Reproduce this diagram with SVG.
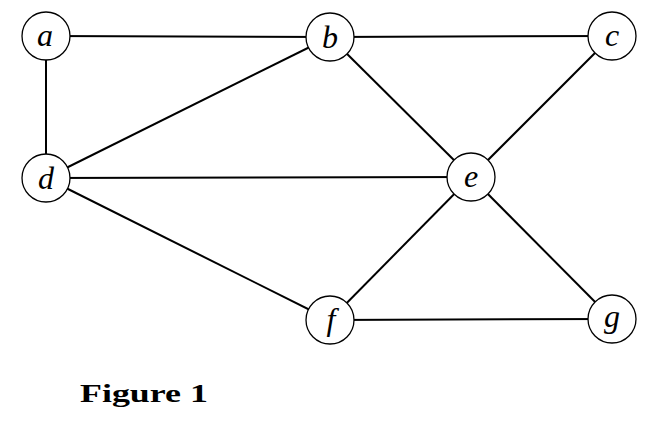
<svg xmlns="http://www.w3.org/2000/svg" width="662" height="424" viewBox="0 0 662 424">
<style>
.edge{stroke:#000;stroke-width:2;fill:none}
.node circle{fill:#fff;stroke:#000;stroke-width:1.3}
.node text{font-family:"Liberation Serif","DejaVu Serif",serif;font-style:italic;font-size:32px;text-anchor:middle;fill:#000}
.cap{font-family:"Liberation Serif","DejaVu Serif",serif;font-weight:bold;font-size:26px;fill:#000}
</style>
<rect width="662" height="424" fill="#fff"/>
<g id="edges">
<line class="edge" x1="46" y1="36" x2="330" y2="37"/>
<line class="edge" x1="330" y1="37" x2="612" y2="36"/>
<line class="edge" x1="46" y1="36" x2="46" y2="178"/>
<line class="edge" x1="46" y1="178" x2="330" y2="37"/>
<line class="edge" x1="46" y1="178" x2="471" y2="177"/>
<line class="edge" x1="46" y1="178" x2="330" y2="320"/>
<line class="edge" x1="330" y1="37" x2="471" y2="177"/>
<line class="edge" x1="612" y1="36" x2="471" y2="177"/>
<line class="edge" x1="471" y1="177" x2="330" y2="320"/>
<line class="edge" x1="471" y1="177" x2="612" y2="319"/>
<line class="edge" x1="330" y1="320" x2="612" y2="319"/>
</g>
<g id="node-a" class="node"><circle cx="46" cy="36" r="24"/><text x="45" y="46">a</text></g>
<g id="node-b" class="node"><circle cx="330" cy="37" r="24"/><text x="330" y="48">b</text></g>
<g id="node-c" class="node"><circle cx="612" cy="36" r="24"/><text x="612" y="46">c</text></g>
<g id="node-d" class="node"><circle cx="46" cy="178" r="24"/><text x="46" y="189">d</text></g>
<g id="node-e" class="node"><circle cx="471" cy="177" r="24"/><text x="471" y="187">e</text></g>
<g id="node-f" class="node"><circle cx="330" cy="320" r="24"/><text x="331" y="330">f</text></g>
<g id="node-g" class="node"><circle cx="612" cy="319" r="24"/><text x="612" y="327">g</text></g>
<text class="cap" x="80" y="402" textLength="128" lengthAdjust="spacingAndGlyphs">Figure 1</text>
</svg>
